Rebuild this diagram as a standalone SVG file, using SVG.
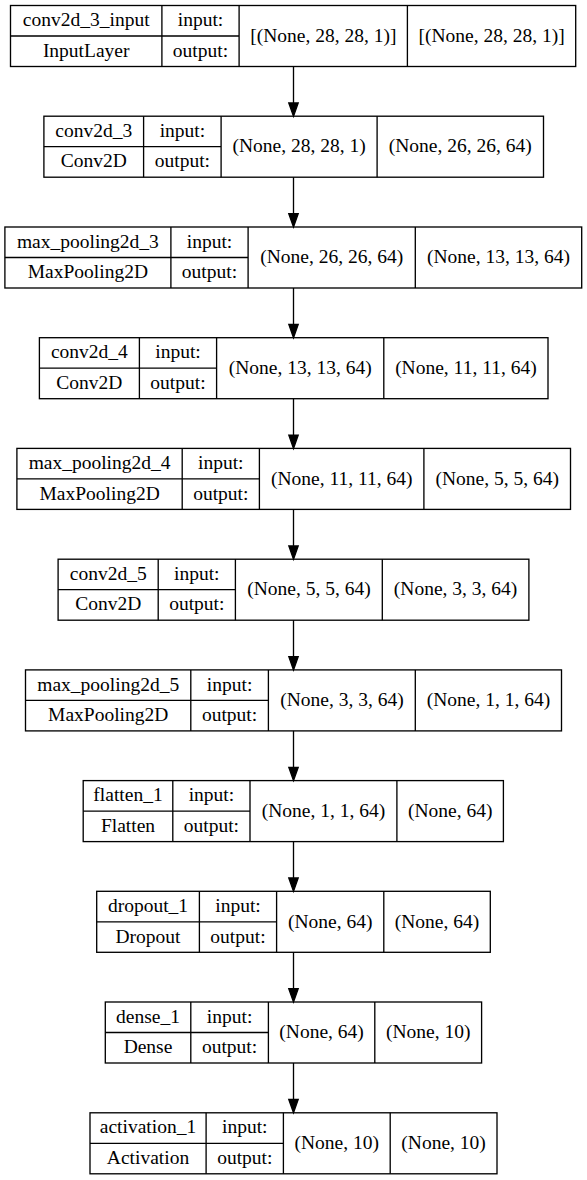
<svg xmlns="http://www.w3.org/2000/svg" width="587" height="1180" viewBox="0 0 587 1180">
<style>
.b{fill:none;stroke:#000;stroke-width:1.33}
text{font-family:"Liberation Serif","Times New Roman",serif;font-size:19.5px;fill:#000;text-anchor:middle}
.e{stroke:#000;stroke-width:1.33;fill:none}
.h{fill:#000;stroke:#000;stroke-width:1.33}
</style>
<rect width="587" height="1180" fill="#fff"/>
<g id="edges">
<line class="e" x1="293.5" y1="66.5" x2="293.5" y2="103"/><polygon class="h" points="288.8,103 293.5,116.2 298.2,103"/>
<line class="e" x1="293.5" y1="177.2" x2="293.5" y2="213.7"/><polygon class="h" points="288.8,213.7 293.5,227 298.2,213.7"/>
<line class="e" x1="293.5" y1="288" x2="293.5" y2="324.4"/><polygon class="h" points="288.8,324.4 293.5,337.7 298.2,324.4"/>
<line class="e" x1="293.5" y1="398.7" x2="293.5" y2="435.1"/><polygon class="h" points="288.8,435.1 293.5,448.4 298.2,435.1"/>
<line class="e" x1="293.5" y1="509.4" x2="293.5" y2="545.9"/><polygon class="h" points="288.8,545.9 293.5,559.2 298.2,545.9"/>
<line class="e" x1="293.5" y1="620.2" x2="293.5" y2="656.6"/><polygon class="h" points="288.8,656.6 293.5,669.9 298.2,656.6"/>
<line class="e" x1="293.5" y1="730.9" x2="293.5" y2="767.3"/><polygon class="h" points="288.8,767.3 293.5,780.6 298.2,767.3"/>
<line class="e" x1="293.5" y1="841.6" x2="293.5" y2="878"/><polygon class="h" points="288.8,878 293.5,891.3 298.2,878"/>
<line class="e" x1="293.5" y1="952.3" x2="293.5" y2="988.7"/><polygon class="h" points="288.8,988.7 293.5,1002 298.2,988.7"/>
<line class="e" x1="293.5" y1="1063" x2="293.5" y2="1099.5"/><polygon class="h" points="288.8,1099.5 293.5,1112.8 298.2,1099.5"/>
</g>
<g id="node1" transform="translate(0,5.5)">
<rect class="b" x="10.5" y="0" width="565.2" height="61"/>
<path class="b" d="M161.9,0V61M239.1,0V61M407.4,0V61M10.5,30.5H239.1"/>
<text x="86.2" y="20.7">conv2d_3_input</text><text x="86.2" y="51.3">InputLayer</text>
<text x="200.5" y="20.7">input:</text><text x="200.5" y="51.3">output:</text>
<text x="323.3" y="36.3">[(None, 28, 28, 1)]</text><text x="491.6" y="36.3">[(None, 28, 28, 1)]</text>
</g>
<g id="node2" transform="translate(0,116.2)">
<rect class="b" x="43.9" y="0" width="499.6" height="61"/>
<path class="b" d="M143.6,0V61M221.1,0V61M377.1,0V61M43.9,30.5H221.1"/>
<text x="93.8" y="20.7">conv2d_3</text><text x="93.8" y="51.3">Conv2D</text>
<text x="182.4" y="20.7">input:</text><text x="182.4" y="51.3">output:</text>
<text x="299.1" y="36.3">(None, 28, 28, 1)</text><text x="460.3" y="36.3">(None, 26, 26, 64)</text>
</g>
<g id="node3" transform="translate(0,227)">
<rect class="b" x="4.9" y="0" width="576.8" height="61"/>
<path class="b" d="M170.9,0V61M248.1,0V61M415.3,0V61M4.9,30.5H248.1"/>
<text x="87.9" y="20.7">max_pooling2d_3</text><text x="87.9" y="51.3">MaxPooling2D</text>
<text x="209.5" y="20.7">input:</text><text x="209.5" y="51.3">output:</text>
<text x="331.7" y="36.3">(None, 26, 26, 64)</text><text x="498.5" y="36.3">(None, 13, 13, 64)</text>
</g>
<g id="node4" transform="translate(0,337.7)">
<rect class="b" x="39.4" y="0" width="508.6" height="61"/>
<path class="b" d="M139.4,0V61M216.6,0V61M383.8,0V61M39.4,30.5H216.6"/>
<text x="89.4" y="20.7">conv2d_4</text><text x="89.4" y="51.3">Conv2D</text>
<text x="178" y="20.7">input:</text><text x="178" y="51.3">output:</text>
<text x="300.2" y="36.3">(None, 13, 13, 64)</text><text x="465.9" y="36.3">(None, 11, 11, 64)</text>
</g>
<g id="node5" transform="translate(0,448.4)">
<rect class="b" x="16.9" y="0" width="553.6" height="61"/>
<path class="b" d="M182.2,0V61M259.4,0V61M423.9,0V61M16.9,30.5H259.4"/>
<text x="99.6" y="20.7">max_pooling2d_4</text><text x="99.6" y="51.3">MaxPooling2D</text>
<text x="220.8" y="20.7">input:</text><text x="220.8" y="51.3">output:</text>
<text x="341.7" y="36.3">(None, 11, 11, 64)</text><text x="497.2" y="36.3">(None, 5, 5, 64)</text>
</g>
<g id="node6" transform="translate(0,559.2)">
<rect class="b" x="58.1" y="0" width="470.8" height="61"/>
<path class="b" d="M158.2,0V61M235.4,0V61M382.3,0V61M58.1,30.5H235.4"/>
<text x="108.2" y="20.7">conv2d_5</text><text x="108.2" y="51.3">Conv2D</text>
<text x="196.8" y="20.7">input:</text><text x="196.8" y="51.3">output:</text>
<text x="308.9" y="36.3">(None, 5, 5, 64)</text><text x="455.6" y="36.3">(None, 3, 3, 64)</text>
</g>
<g id="node7" transform="translate(0,669.9)">
<rect class="b" x="25.5" y="0" width="536" height="61"/>
<path class="b" d="M190.8,0V61M268.4,0V61M415.3,0V61M25.5,30.5H268.4"/>
<text x="108.2" y="20.7">max_pooling2d_5</text><text x="108.2" y="51.3">MaxPooling2D</text>
<text x="229.6" y="20.7">input:</text><text x="229.6" y="51.3">output:</text>
<text x="341.9" y="36.3">(None, 3, 3, 64)</text><text x="488.4" y="36.3">(None, 1, 1, 64)</text>
</g>
<g id="node8" transform="translate(0,780.6)">
<rect class="b" x="83.2" y="0" width="420.2" height="61"/>
<path class="b" d="M172.8,0V61M250,0V61M396.9,0V61M83.2,30.5H250"/>
<text x="128" y="20.7">flatten_1</text><text x="128" y="51.3">Flatten</text>
<text x="211.4" y="20.7">input:</text><text x="211.4" y="51.3">output:</text>
<text x="323.5" y="36.3">(None, 1, 1, 64)</text><text x="450.2" y="36.3">(None, 64)</text>
</g>
<g id="node9" transform="translate(0,891.3)">
<rect class="b" x="96.7" y="0" width="393.6" height="61"/>
<path class="b" d="M199.4,0V61M276.6,0V61M383.8,0V61M96.7,30.5H276.6"/>
<text x="148" y="20.7">dropout_1</text><text x="148" y="51.3">Dropout</text>
<text x="238" y="20.7">input:</text><text x="238" y="51.3">output:</text>
<text x="330.2" y="36.3">(None, 64)</text><text x="437" y="36.3">(None, 64)</text>
</g>
<g id="node10" transform="translate(0,1002)">
<rect class="b" x="105.3" y="0" width="376.3" height="61"/>
<path class="b" d="M190.8,0V61M268.4,0V61M374.8,0V61M105.3,30.5H268.4"/>
<text x="148" y="20.7">dense_1</text><text x="148" y="51.3">Dense</text>
<text x="229.6" y="20.7">input:</text><text x="229.6" y="51.3">output:</text>
<text x="321.6" y="36.3">(None, 64)</text><text x="428.2" y="36.3">(None, 10)</text>
</g>
<g id="node11" transform="translate(0,1112.8)">
<rect class="b" x="90" y="0" width="407" height="61"/>
<path class="b" d="M206.1,0V61M283.4,0V61M390.2,0V61M90,30.5H283.4"/>
<text x="148" y="20.7">activation_1</text><text x="148" y="51.3">Activation</text>
<text x="244.8" y="20.7">input:</text><text x="244.8" y="51.3">output:</text>
<text x="336.8" y="36.3">(None, 10)</text><text x="443.6" y="36.3">(None, 10)</text>
</g>
</svg>
